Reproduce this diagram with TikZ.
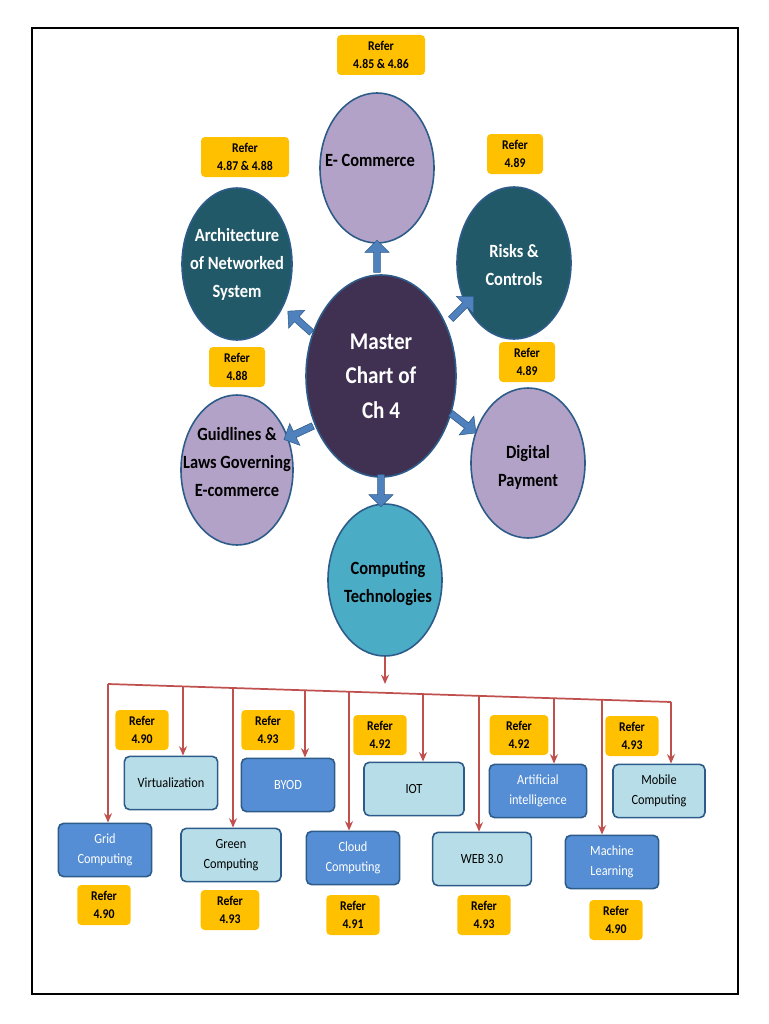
\documentclass[tikz,border=0pt]{standalone}
\usepackage{fontspec}
\setmainfont{Carlito}[FakeStretch=0.88]
\usetikzlibrary{shapes.geometric,shapes.arrows,arrows.meta}
\definecolor{purp}{HTML}{B3A2C7}
\definecolor{teal}{HTML}{215968}
\definecolor{mast}{HTML}{403152}
\definecolor{cyanb}{HTML}{4BACC6}
\definecolor{edge}{HTML}{2E5C8A}
\definecolor{ylw}{HTML}{FFC000}
\definecolor{lb}{HTML}{B7DEE8}
\definecolor{db}{HTML}{558ED5}
\definecolor{redl}{HTML}{C0504D}
\definecolor{arr}{HTML}{4F81BD}
\tikzset{
 ell/.style={ellipse,draw=edge,line width=1.2pt,inner sep=0pt},
 etxt/.style={align=center,font=\bfseries\fontsize{14}{21}\selectfont,inner sep=0pt},
 refer/.style={rectangle,rounded corners=3pt,fill=ylw,minimum height=30pt,align=center,font=\bfseries\fontsize{10}{14}\selectfont,inner sep=2pt},
 box/.style={rectangle,rounded corners=4pt,draw=edge,line width=1.2pt,minimum width=70pt,minimum height=40pt,align=center,font=\fontsize{10.5}{15}\selectfont},
 lbox/.style={box,fill=lb,text=black},
 dbox/.style={box,fill=db,text=white},
 barr/.style={single arrow,draw=edge,fill=arr,minimum height=24pt,minimum width=18pt,single arrow head extend=3pt,inner sep=1pt},
 red/.style={draw=redl,line width=1.3pt},
 redarr/.style={red,-{Stealth[length=7pt,width=6pt]}}
}
\begin{document}
\begin{tikzpicture}[x=0.75pt,y=-0.75pt]
\useasboundingbox (0,0) rectangle (768,1024);
\draw[line width=1.5pt] (32,28) rectangle (738,994);
% ellipses
\node[ell,fill=purp,minimum width=85.5pt,minimum height=112.5pt] (ec) at (377,168) {};
\node[etxt] (ect) at (370,160) {E- Commerce};
\node[ell,fill=teal,minimum width=82.5pt,minimum height=114pt] (arch) at (237,264) {};
\node[etxt,text=white] (archt) at (237,264) {Architecture\\of Networked\\System};
\node[ell,fill=teal,minimum width=85.5pt,minimum height=114pt] (risk) at (514,263) {};
\node[etxt,text=white] (riskt) at (514,265) {Risks \&\\Controls};
\node[ell,fill=mast,minimum width=112.5pt,minimum height=151.5pt] (m) at (381,376) {};
\node[etxt,text=white,font=\bfseries\fontsize{18}{26}\selectfont] (mt) at (381,376) {Master\\Chart of\\Ch 4};
\node[ell,fill=purp,minimum width=84pt,minimum height=112.5pt] (guid) at (237,470) {};
\node[etxt] (guidt) at (237,462) {Guidlines \&\\Laws Governing\\E-commerce};
\node[ell,fill=purp,minimum width=85.5pt,minimum height=112.5pt] (dig) at (528,463) {};
\node[etxt] (digt) at (528,467) {Digital\\Payment};
\node[ell,fill=cyanb,minimum width=85.5pt,minimum height=114pt] (ct) at (385,580) {};
\node[etxt] (ctt) at (388,584) {Computing\\Technologies};
% block arrows
\node[barr,rotate=90] (a1) at (377,258) {};
\node[barr,rotate=138] (a2) at (301,323) {};
\node[barr,rotate=45] (a3) at (461,309) {};
\node[barr,rotate=205] (a4) at (300,432) {};
\node[barr,rotate=-38] (a5) at (462,422) {};
\node[barr,rotate=-90] (a6) at (381,489) {};
% top refers
\node[refer,minimum width=66pt] (r1) at (381,55) {Refer\\4.85 \& 4.86};
\node[refer,minimum width=66pt] (r2) at (245,157) {Refer\\4.87 \& 4.88};
\node[refer,minimum width=42pt] (r3) at (515,154) {Refer\\4.89};
\node[refer,minimum width=42pt] (r4) at (237,367) {Refer\\4.88};
\node[refer,minimum width=42pt] (r5) at (527,362) {Refer\\4.89};
% boxes
\node[lbox] (virt) at (171,783) {Virtualization};
\node[dbox] (byod) at (288,785) {BYOD};
\node[lbox,minimum width=75pt] (iot) at (414,789) {IOT};
\node[dbox,minimum width=73pt] (ai) at (538,791) {Artificial\\intelligence};
\node[lbox,minimum width=69pt] (mob) at (659,791) {Mobile\\Computing};
\node[dbox] (grid) at (105,850) {Grid\\Computing};
\node[lbox,minimum width=75pt] (green) at (231,855) {Green\\Computing};
\node[dbox] (cloud) at (353,858) {Cloud\\Computing};
\node[lbox,minimum width=74pt] (web) at (482,859) {WEB 3.0};
\node[dbox] (ml) at (612,862) {Machine\\Learning};
% bottom refers
\node[refer,minimum width=40pt] (b1) at (142,730) {Refer\\4.90};
\node[refer,minimum width=40pt] (b2) at (268,730) {Refer\\4.93};
\node[refer,minimum width=40pt] (b3) at (380,735) {Refer\\4.92};
\node[refer,minimum width=44pt] (b4) at (519,735) {Refer\\4.92};
\node[refer,minimum width=40pt] (b5) at (632,736) {Refer\\4.93};
\node[refer,minimum width=40pt] (c1) at (104,905) {Refer\\4.90};
\node[refer,minimum width=44pt] (c2) at (230,910) {Refer\\4.93};
\node[refer,minimum width=40pt] (c3) at (353,915) {Refer\\4.91};
\node[refer,minimum width=40pt] (c4) at (484,915) {Refer\\4.93};
\node[refer,minimum width=40pt] (c5) at (616,920) {Refer\\4.90};
% red tree
\coordinate (bl) at (108,684);
\coordinate (br) at (671,702);
\draw[red] (bl) -- (br);
\draw[redarr] (ct.south) -- (385,684);
\draw[redarr] (bl) -- (grid.north -| bl);
\draw[redarr] (183,686.4) -- (virt.north -| 183,0);
\draw[redarr] (233,688) -- (green.north -| 233,0);
\draw[redarr] (305,690.3) -- (byod.north -| 305,0);
\draw[redarr] (349,691.7) -- (cloud.north -| 349,0);
\draw[redarr] (423,694) -- (iot.north -| 423,0);
\draw[redarr] (479,695.8) -- (web.north -| 479,0);
\draw[redarr] (554,698.2) -- (ai.north -| 554,0);
\draw[redarr] (602,699.8) -- (ml.north -| 602,0);
\draw[redarr] (br) -- (mob.north -| br);
\end{tikzpicture}
\end{document}
